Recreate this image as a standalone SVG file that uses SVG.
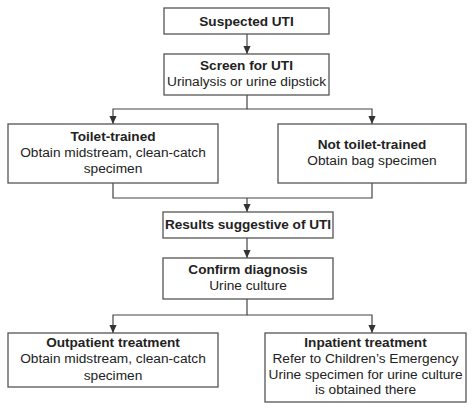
<svg xmlns="http://www.w3.org/2000/svg" width="474" height="411" viewBox="0 0 474 411">
<defs>
<marker id="ah" viewBox="0 0 10 10" refX="10" refY="5" markerWidth="8" markerHeight="8" markerUnits="userSpaceOnUse" orient="auto">
<path d="M0,0.5 L10,5 L0,9.5 Z" fill="#333"/>
</marker>
<style>
.box{fill:#fff;stroke:#555;stroke-width:1.3}
.ln{fill:none;stroke:#444;stroke-width:1.2}
text{font-family:"Liberation Sans",Arial,sans-serif;font-size:13.7px;fill:#222;text-anchor:middle}
.b{font-weight:bold;font-size:13.6px}
</style>
</defs>
<rect width="474" height="411" fill="#fff"/>
<g id="connectors">
<path class="ln" d="M247,34 V54" marker-end="url(#ah)"/>
<path class="ln" d="M247,95 V109 H113 V124" marker-end="url(#ah)"/>
<path class="ln" d="M247,109 H372 V124" marker-end="url(#ah)"/>
<path class="ln" d="M113,183 V198 H372 V183"/>
<path class="ln" d="M247,198 V212" marker-end="url(#ah)"/>
<path class="ln" d="M247,238 V258" marker-end="url(#ah)"/>
<path class="ln" d="M247,299 V315 H113 V333" marker-end="url(#ah)"/>
<path class="ln" d="M247,315 H372 V333" marker-end="url(#ah)"/>
</g>
<g id="suspected">
<rect class="box" x="164" y="8" width="165" height="26"/>
<text class="b" x="246.5" y="26">Suspected UTI</text>
</g>
<g id="screen">
<rect class="box" x="164" y="54" width="165" height="41"/>
<text class="b" x="246.5" y="70">Screen for UTI</text>
<text x="246.5" y="86">Urinalysis or urine dipstick</text>
</g>
<g id="toilet">
<rect class="box" x="8" y="124" width="210" height="59"/>
<text class="b" x="113" y="141">Toilet-trained</text>
<text x="113" y="157">Obtain midstream, clean-catch</text>
<text x="113" y="173">specimen</text>
</g>
<g id="nottoilet">
<rect class="box" x="278" y="124" width="188" height="59"/>
<text class="b" x="372" y="149">Not toilet-trained</text>
<text x="372" y="165">Obtain bag specimen</text>
</g>
<g id="results">
<rect class="box" x="163" y="212" width="170" height="26"/>
<text class="b" x="248" y="229">Results suggestive of UTI</text>
</g>
<g id="confirm">
<rect class="box" x="163" y="258" width="170" height="41"/>
<text class="b" x="248" y="274">Confirm diagnosis</text>
<text x="248" y="290">Urine culture</text>
</g>
<g id="outpatient">
<rect class="box" x="8" y="333" width="210" height="54"/>
<text class="b" x="113" y="347">Outpatient treatment</text>
<text x="113" y="363">Obtain midstream, clean-catch</text>
<text x="113" y="380">specimen</text>
</g>
<g id="inpatient">
<rect class="box" x="265" y="333" width="201" height="69"/>
<text class="b" x="365.5" y="347">Inpatient treatment</text>
<text x="365.5" y="363">Refer to Children’s Emergency</text>
<text x="365.5" y="379">Urine specimen for urine culture</text>
<text x="365.5" y="394">is obtained there</text>
</g>
</svg>
